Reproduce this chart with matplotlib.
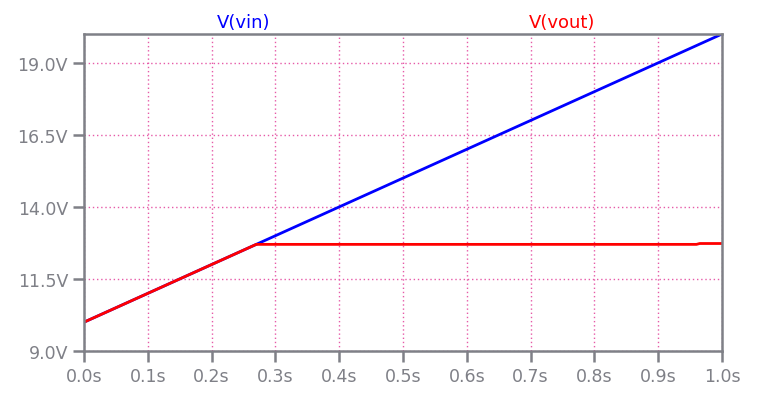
import numpy as np
import matplotlib.pyplot as plt

# time (s) and node voltages (V)
t_vin = [0.0, 1.0]
v_vin = [10.0, 20.0]
t_vout = [0.0, 0.27, 0.96, 0.965, 1.0]
v_vout = [10.0, 12.7, 12.7, 12.73, 12.73]

xticks = np.arange(0, 1.01, 0.1)
yticks = [9.0, 11.5, 14.0, 16.5, 19.0]

gray = '#7f8087'

fig = plt.figure(figsize=(7.65, 4.02), dpi=100)
ax = fig.add_axes([0.1098, 0.1244, 0.834, 0.7885])

ax.plot(t_vin, v_vin, color='#0000ff', lw=2.0)
ax.plot(t_vout, v_vout, color='#ff0000', lw=2.0)

ax.set_xlim(0, 1)
ax.set_ylim(9, 20)
ax.set_xticks(xticks)
ax.set_xticklabels(['%.1fs' % v for v in xticks])
ax.set_yticks(yticks)
ax.set_yticklabels(['%.1fV' % v for v in yticks])

ax.grid(True, color='#e65aa8', ls=(0, (1, 2)), lw=1.0)
for s in ax.spines.values():
    s.set_color(gray)
    s.set_linewidth(1.8)
ax.tick_params(colors=gray, labelcolor=gray, labelsize=12.5, length=8, width=1.8, direction='out')

ax.text(0.25, 1.008, 'V(vin)', color='#0000ff', fontsize=13, ha='center', va='bottom', transform=ax.transAxes)
ax.text(0.75, 1.008, 'V(vout)', color='#ff0000', fontsize=13, ha='center', va='bottom', transform=ax.transAxes)

fig.savefig('out.png', dpi=100)
